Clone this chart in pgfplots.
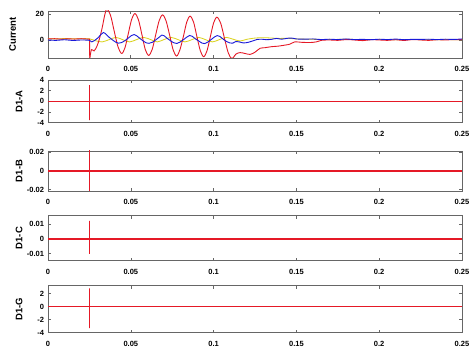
\documentclass[border=0pt]{standalone}
\usepackage{fontspec}
\setmainfont{Liberation Sans}
\usepackage{pgfplots}
\pgfplotsset{compat=1.18}
\definecolor{mred}{rgb}{0.90,0.10,0.15}
\definecolor{mblue}{rgb}{0.10,0.10,0.85}
\definecolor{myel}{rgb}{0.85,0.82,0.10}
\pgfplotsset{
  myax/.style={
    scale only axis, width=414pt, anchor=north west,
    xmin=0, xmax=0.25,
    xtick={0,0.05,0.1,0.15,0.2,0.25},
    xticklabels={0,0.05,0.1,0.15,0.2,0.25},
    scaled x ticks=false, scaled y ticks=false,
    axis line style={black!60}, tick style={black!60, line width=0.6pt},
    major tick length=3pt,
    tick label style={font=\fontsize{7.5}{9}\selectfont\bfseries},
    xticklabel style={yshift=-5pt},
    yticklabel style={xshift=-0.5pt},
    ylabel style={font=\fontsize{9.5}{11}\selectfont\bfseries, at={(axis description cs:-0.07,0.5)}, anchor=center},
    clip=true,
  },
}
\begin{document}
\begin{tikzpicture}
\useasboundingbox (0,0) rectangle (474pt,-355pt);
% Panel 1: Current
\begin{axis}[myax, at={(48pt,-11pt)}, height=47pt,
  ymin=-14, ymax=22.5, ytick={0,20}, yticklabels={0,20},
  ylabel={Current}, ylabel style={at={(axis description cs:-0.0857,0.5)}}]
\addplot[color=myel, line width=0.8pt, smooth] coordinates {
(0,1) (0.005,0.8) (0.01,1.1) (0.015,0.9) (0.02,1) (0.025,0.9) (0.0285,-0.5) (0.0327,-1.5)
(0.037,0.3) (0.041,2) (0.045,0.3) (0.0493,-1.5) (0.0535,0.3) (0.0577,2) (0.062,0.3)
(0.066,-1.5) (0.07,0.3) (0.0743,2) (0.0785,0.3) (0.0827,-1.5) (0.087,0.3) (0.091,2)
(0.095,0.3) (0.0993,-1.5) (0.1035,0.3) (0.1077,2) (0.112,0.5) (0.116,-0.8) (0.12,0.5)
(0.125,1.5) (0.13,1.8) (0.135,1.5) (0.14,1.2) (0.145,1.3) (0.15,0.8) (0.16,0.5) (0.17,0.3)
(0.18,0.6) (0.19,0.2) (0.2,0.4) (0.21,0.1) (0.22,0.4) (0.23,0.1) (0.24,0.3) (0.25,0.2)};
\addplot[color=mred, line width=0.9pt] coordinates {
(0,0.8) (0.004,1.0) (0.008,0.6) (0.012,0.9) (0.016,0.7) (0.02,1.0) (0.024,0.7) (0.0251,0.6) (0.0252,-15)};
\addplot[color=mred, line width=0.9pt, smooth] coordinates {
(0.0252,-15) (0.0262,-7.5) (0.0278,-8.5) (0.0295,-5) (0.0312,1.5) (0.0328,10) (0.0342,19) (0.0355,24)
(0.0378,18.95) (0.04,6.75) (0.0423,-5.45) (0.0445,-10.5)
(0.0465,-5.96) (0.0485,5) (0.0505,15.96) (0.0525,20.5)
(0.0546,15.74) (0.0567,4.25) (0.0587,-7.24) (0.0608,-12)
(0.0629,-7.39) (0.065,3.75) (0.0671,14.89) (0.0692,19.5)
(0.0713,14.81) (0.0735,3.5) (0.0756,-7.81) (0.0777,-12.5)
(0.0797,-7.46) (0.0818,3) (0.0838,13.96) (0.0858,18.5)
(0.0879,13.89) (0.0899,2.75) (0.092,-8.39) (0.094,-13)
(0.096,-8.5) (0.098,2.35) (0.1,13.2) (0.102,17.7)
(0.1043,12.98) (0.1065,1.6) (0.1088,-9.78) (0.111,-14.5)
(0.1135,-11) (0.116,-9.8) (0.119,-10.5) (0.122,-11.2) (0.125,-9.5) (0.128,-6.5) (0.131,-6)
(0.135,-5.2) (0.139,-4.8) (0.143,-4) (0.146,-3.3) (0.149,-1.5) (0.153,-1.8) (0.158,-2)
(0.162,-1.5) (0.165,-0.3) (0.17,0) (0.175,-0.3) (0.18,0.3) (0.185,0) (0.19,-0.5) (0.195,0.2)
(0.2,0) (0.205,-0.3) (0.21,0.2) (0.215,-0.4) (0.22,0.3) (0.225,0) (0.23,-0.3) (0.235,0.2)
(0.24,0) (0.245,0.3) (0.25,0.2)};
\addplot[color=mblue, line width=0.9pt, smooth] coordinates {
(0,0) (0.005,-0.3) (0.01,0.2) (0.015,-0.4) (0.02,0) (0.025,-0.3) (0.0265,-1.5) (0.028,-0.5)
(0.030,1.5) (0.0322,4.5) (0.0335,5.8) (0.035,4.5) (0.037,2) (0.039,0) (0.041,-1.8) (0.0425,-2.5)
(0.0445,-2) (0.0465,-0.5) (0.0485,1.5) (0.0505,3.5) (0.052,4.2) (0.0535,3.3) (0.0555,1.2)
(0.0575,-0.8) (0.0595,-2.3) (0.061,-2.6) (0.063,-1.8) (0.065,0) (0.067,2) (0.0688,3.8)
(0.0702,3.2) (0.072,1.2) (0.074,-0.6) (0.076,-2.2) (0.0778,-2.7) (0.0798,-1.6) (0.0818,0.2)
(0.0838,2.2) (0.0855,3.5) (0.087,2.9) (0.089,0.9) (0.091,-0.8) (0.093,-2.4) (0.0945,-2.8)
(0.0965,-1.6) (0.0985,0.3) (0.1005,2.3) (0.1022,3.4) (0.1038,2.7) (0.1058,0.6) (0.1078,-1.2)
(0.1098,-2.3) (0.1115,-2.5) (0.1135,-1.2) (0.1155,-1.5) (0.118,-2.3) (0.121,-1.8) (0.1235,-0.8)
(0.126,0.3) (0.129,0.6) (0.132,0.2) (0.135,0.5) (0.138,1.2) (0.141,0.6) (0.144,1.2) (0.147,1.5)
(0.15,0.8) (0.155,0.6) (0.16,0.8) (0.165,0.3) (0.17,0.6) (0.175,0.3) (0.18,0.8) (0.185,0.3)
(0.19,0.5) (0.195,0.2) (0.2,0.6) (0.205,0.3) (0.21,0.7) (0.215,0.2) (0.22,0.5) (0.225,0.4)
(0.23,0.6) (0.235,0.3) (0.24,0.6) (0.245,0.4) (0.25,0.8)};
\end{axis}
% Panel 2: D1-A
\begin{axis}[myax, at={(48pt,-80pt)}, height=42.7pt,
  ymin=-4, ymax=4, ytick={-4,-2,0,2,4}, yticklabels={-4,-2,0,2,4},
  ylabel={D1-A}]
\addplot[color=mred, line width=1.1pt] coordinates {(0,0) (0.0251,0) (0.0251,3.06) (0.0251,-3.5) (0.0251,0) (0.25,0)};
\end{axis}
% Panel 3: D1-B
\begin{axis}[myax, at={(48pt,-151pt)}, height=40pt,
  ymin=-0.0215, ymax=0.0215, ytick={-0.02,0,0.02}, yticklabels={-0.02,0,0.02},
  ylabel={D1-B}]
\addplot[color=mred, line width=1.1pt] coordinates {(0,0) (0.0251,0) (0.0251,0.0226) (0.0251,-0.0218) (0.0251,0) (0.25,0)};
\end{axis}
% Panel 4: D1-C
\begin{axis}[myax, at={(48pt,-215.7pt)}, height=45pt,
  ymin=-0.0148, ymax=0.0159, ytick={-0.01,0,0.01}, yticklabels={-0.01,0,0.01},
  ylabel={D1-C}]
\addplot[color=mred, line width=1.1pt] coordinates {(0,0) (0.0251,0) (0.0251,0.0124) (0.0251,-0.0102) (0.0251,0) (0.25,0)};
\end{axis}
% Panel 5: D1-G
\begin{axis}[myax, at={(48pt,-285.7pt)}, height=47pt,
  ymin=-4, ymax=3.2, ytick={-4,-2,0,2}, yticklabels={-4,-2,0,2},
  ylabel={D1-G}]
\addplot[color=mred, line width=1.1pt] coordinates {(0,0) (0.0251,0) (0.0251,2.8) (0.0251,-3.3) (0.0251,0) (0.25,0)};
\end{axis}
\end{tikzpicture}
\end{document}
